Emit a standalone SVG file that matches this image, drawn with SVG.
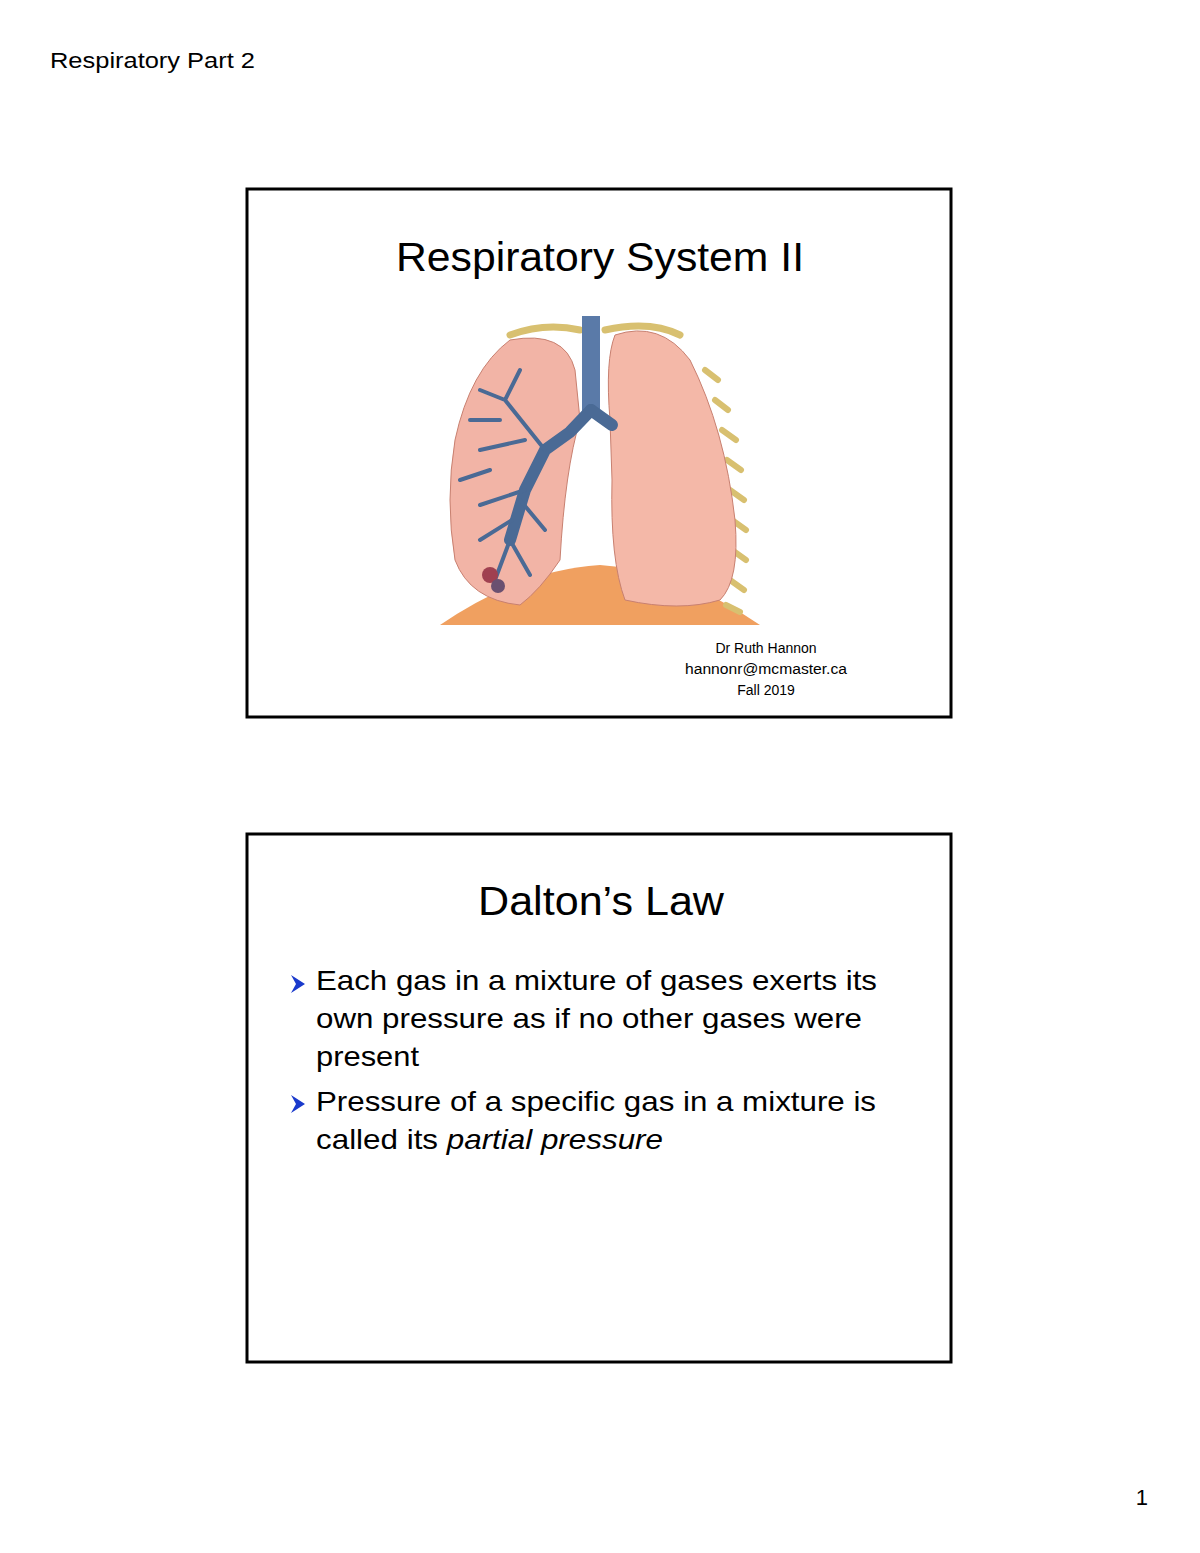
<svg xmlns="http://www.w3.org/2000/svg" width="1200" height="1553" viewBox="0 0 1200 1553">
<style>
text{font-family:"Liberation Sans",Arial,sans-serif;fill:#000}
.frame{fill:#fff;stroke:#000;stroke-width:3}
.bronch{fill:none;stroke:#4a6a95;stroke-linecap:round}
.rib{fill:none;stroke:#d8c070;stroke-width:7;stroke-linecap:round}
</style>
<rect width="1200" height="1553" fill="#fff"/>
<text x="50" y="68" font-size="22" textLength="205" lengthAdjust="spacingAndGlyphs">Respiratory Part 2</text>
<text x="1148" y="1505" font-size="22" text-anchor="end">1</text>

<g id="slide1">
<rect class="frame" x="247" y="189" width="704" height="528"/>
<text x="396" y="271" font-size="40" textLength="408" lengthAdjust="spacingAndGlyphs">Respiratory System II</text>
<g id="lungs">
<path d="M440 625 Q520 570 600 565 Q680 570 760 625 Z" fill="#f0a060"/>
<path class="rib" d="M510 335 Q545 322 580 330"/>
<path class="rib" d="M605 330 Q650 320 680 335"/>
<g stroke="#d8c070" stroke-width="6" stroke-linecap="round">
<line x1="705" y1="370" x2="718" y2="380"/><line x1="715" y1="400" x2="728" y2="410"/>
<line x1="722" y1="430" x2="736" y2="440"/><line x1="727" y1="460" x2="741" y2="470"/>
<line x1="730" y1="490" x2="744" y2="500"/><line x1="732" y1="520" x2="746" y2="530"/>
<line x1="732" y1="550" x2="746" y2="560"/><line x1="730" y1="580" x2="744" y2="590"/>
<line x1="726" y1="605" x2="740" y2="612"/>
</g>
<path d="M510 340 Q565 330 575 370 L580 420 Q565 470 560 560 Q540 590 520 605 Q470 600 455 560 Q445 500 455 440 Q470 370 510 340 Z" fill="#f2b4a6" stroke="#c88070"/>
<path d="M615 335 Q660 320 690 360 Q725 430 735 520 Q740 580 720 600 Q680 612 625 600 Q610 560 612 480 L610 420 Q605 360 615 335 Z" fill="#f4b8a8" stroke="#c88070"/>
<rect x="582" y="316" width="18" height="100" fill="#5a7aa8"/>
<path class="bronch" stroke-width="12" d="M591 410 L570 432 L545 450 L525 490 L510 540"/>
<path class="bronch" stroke-width="12" d="M591 410 L612 425"/>
<path class="bronch" stroke-width="4" d="M545 450 L505 400 L520 370 M505 400 L480 390 M525 440 L480 450 M525 490 L480 505 M520 500 L545 530 M512 520 L480 540 M510 540 L495 580 M510 540 L530 575 M500 420 L470 420 M490 470 L460 480"/>
<circle cx="490" cy="575" r="8" fill="#a04050"/><circle cx="498" cy="586" r="7" fill="#6a5070"/>
</g>
<text x="766" y="653" font-size="14" text-anchor="middle">Dr Ruth Hannon</text>
<text x="766" y="674" font-size="14" text-anchor="middle" textLength="162" lengthAdjust="spacingAndGlyphs">hannonr@mcmaster.ca</text>
<text x="766" y="695" font-size="14" text-anchor="middle">Fall 2019</text>
</g>

<g id="slide2">
<rect class="frame" x="247" y="834" width="704" height="528"/>
<text x="478" y="915" font-size="40" textLength="246" lengthAdjust="spacingAndGlyphs">Dalton’s Law</text>
<g fill="#1a3acc">
<path d="M291 975 L305 984 L291 993 L296 984 Z"/>
<path d="M291 1095 L305 1104 L291 1113 L296 1104 Z"/>
</g>
<g font-size="28" lengthAdjust="spacingAndGlyphs">
<text x="316" y="990" textLength="561" lengthAdjust="spacingAndGlyphs">Each gas in a mixture of gases exerts its</text>
<text x="316" y="1028" textLength="546" lengthAdjust="spacingAndGlyphs">own pressure as if no other gases were</text>
<text x="316" y="1066" textLength="103" lengthAdjust="spacingAndGlyphs">present</text>
<text x="316" y="1111" textLength="560" lengthAdjust="spacingAndGlyphs">Pressure of a specific gas in a mixture is</text>
<text x="316" y="1149" textLength="347" lengthAdjust="spacingAndGlyphs">called its <tspan font-style="italic">partial pressure</tspan></text>
</g>
</g>
</svg>
